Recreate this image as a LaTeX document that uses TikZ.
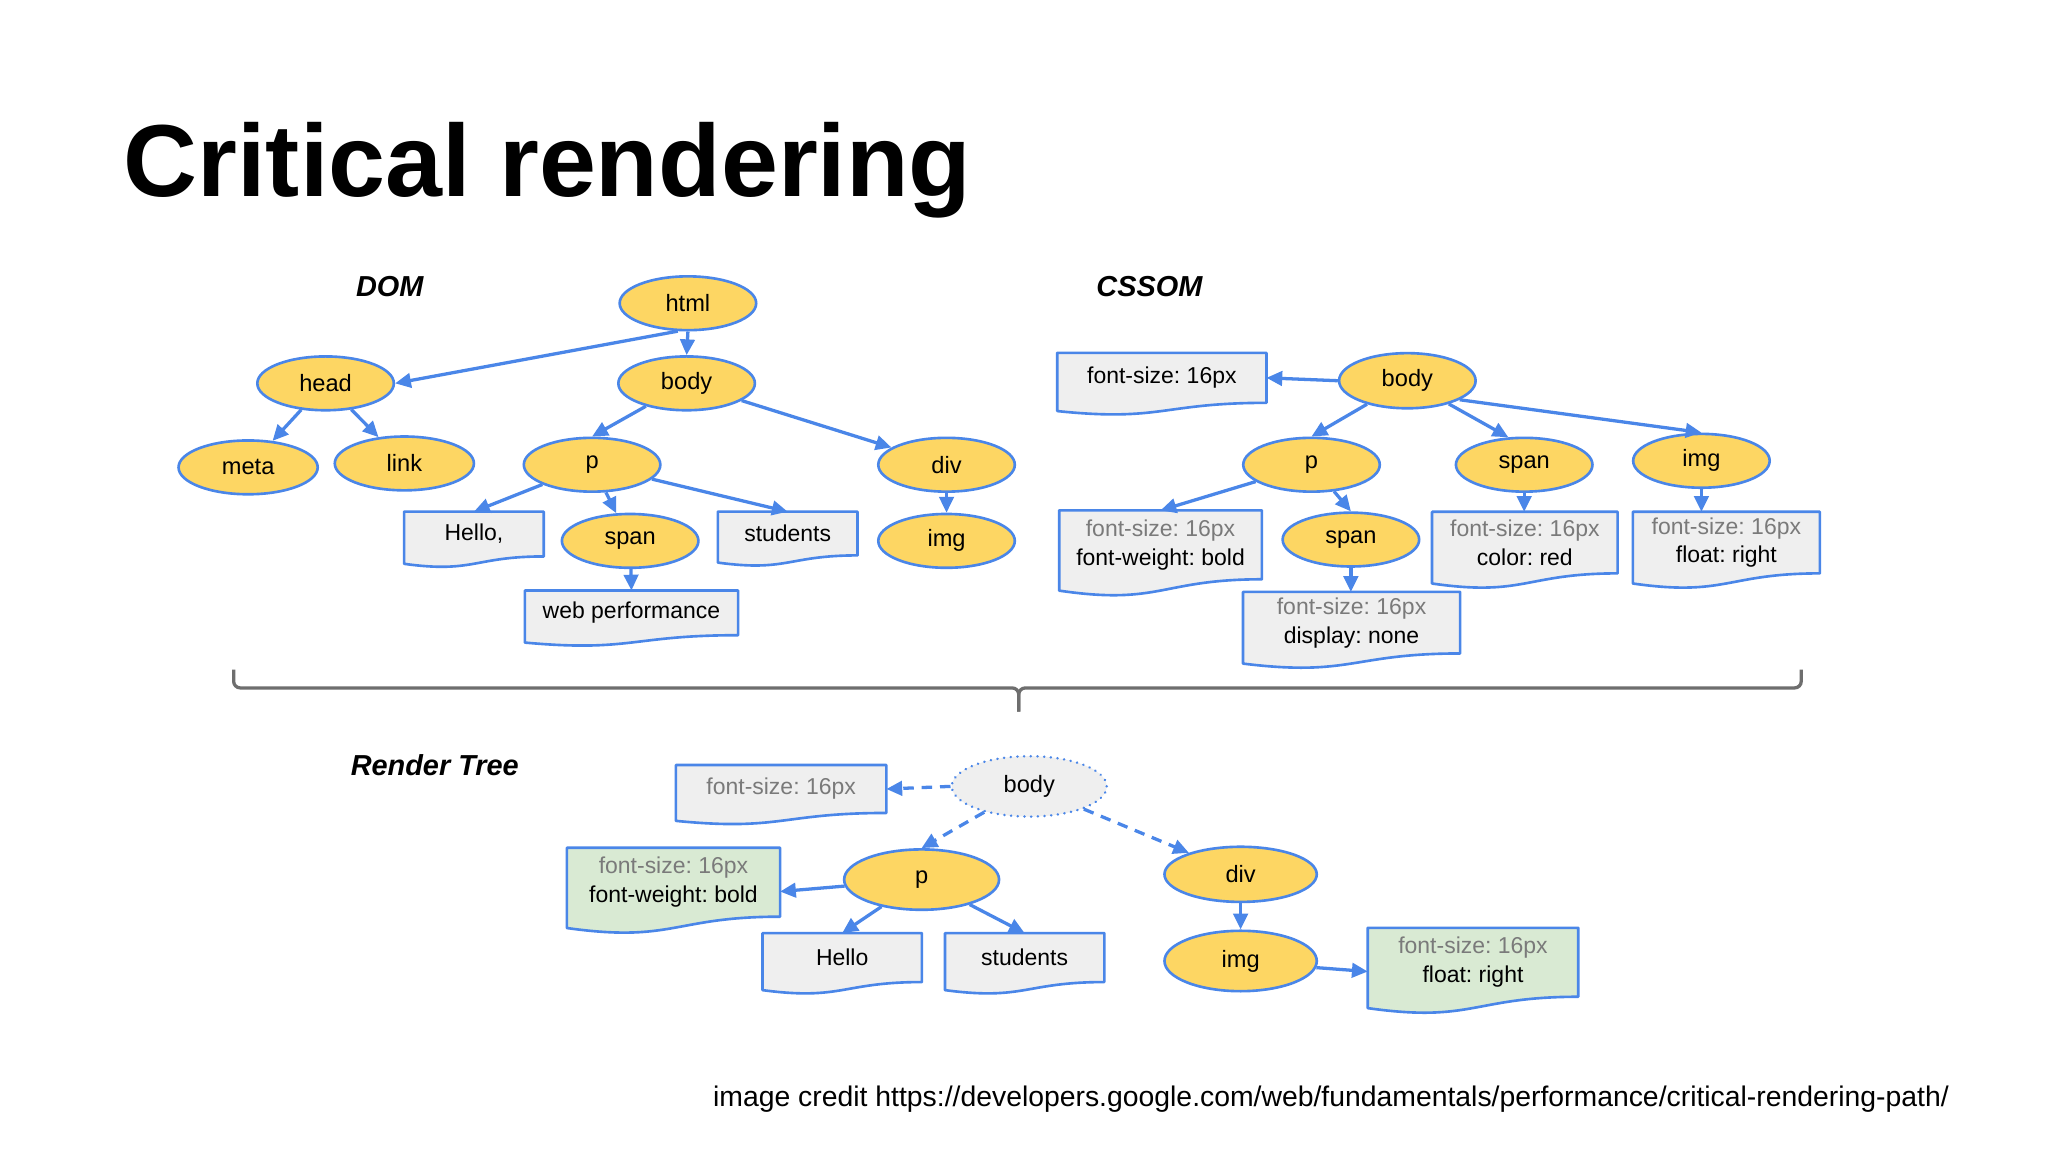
\documentclass[tikz,border=0pt]{standalone}
\usepackage{fontspec}
\setmainfont{Liberation Sans}
\usetikzlibrary{arrows.meta,calc,backgrounds,shapes.geometric}
\definecolor{gblue}{HTML}{4A86E8}
\definecolor{gyellow}{HTML}{FDD663}
\definecolor{boxgray}{HTML}{EFEFEF}
\definecolor{boxgreen}{HTML}{D9EAD3}
\definecolor{softtext}{HTML}{7A7A7A}
\definecolor{bracegray}{HTML}{6E6E6E}
\frenchspacing
\tikzset{
  elnode/.style={ellipse, draw=gblue, line width=2pt, fill=gyellow, inner sep=0pt,
    minimum width=104pt, minimum height=41pt, font=\fontsize{18}{20}\selectfont, text=black},
  docnode/.style={rectangle, inner sep=0pt, align=center, font=\fontsize{17.5}{22}\selectfont, text=black},
  docborder/.style={draw=gblue, line width=2pt, line join=round},
  arr/.style={draw=gblue, line width=2.5pt, -{Triangle[length=12pt,width=11pt]}},
  dasharr/.style={arr, dash pattern=on 8pt off 6pt},
  sectlabel/.style={anchor=west, font=\fontsize{22}{24}\selectfont\bfseries\itshape}
}
\newcommand{\lt}[1]{\textcolor{softtext}{#1}}
\begin{document}
\begin{tikzpicture}[x=1pt,y=-1pt]
\useasboundingbox (0,0) rectangle (1560,877.5);

% title and labels
\node[anchor=base west, font=\fontsize{78}{90}\selectfont\bfseries, inner sep=0pt] (title) at (94,150) {Critical rendering};
\node[sectlabel, inner sep=0pt] (domlabel) at (271,218) {DOM};
\node[sectlabel, inner sep=0pt] (cssomlabel) at (835,218) {CSSOM};
\node[sectlabel, inner sep=0pt] (rtlabel) at (267,583) {Render Tree};
\node[anchor=base west, inner sep=0pt, font=\fontsize{21.6}{24}\selectfont] (credit) at (543,843) {image credit https://developers.google.com/web/fundamentals/performance/critical-rendering-path/};

% ---------------- DOM ----------------
\node[elnode] (html) at (524,231) {html};
\node[elnode] (head) at (248,292) {head};
\node[elnode] (dbody) at (523,292) {body};
\node[elnode, minimum width=106pt] (meta) at (189,356) {meta};
\node[elnode, minimum width=106pt] (link) at (308,353) {link};
\node[elnode] (dp) at (451,354) {p};
\node[elnode] (ddiv) at (721,354) {div};
\node[elnode] (dspan) at (480,412) {span};
\node[elnode] (dimg) at (721,412) {img};
\node[docnode, minimum width=106pt, minimum height=33.7pt] (hello) at (361,406.8) {Hello,};
\node[docnode, minimum width=106pt, minimum height=32.9pt] (dstudents) at (600,406.4) {students};
\node[docnode, minimum width=162pt, minimum height=33.7pt] (webperf) at (481,466.8) {web performance};

\draw[arr] (html.250) -- (head.east);
\draw[arr] (html.south) -- (dbody.north);
\draw[arr] (head) -- (meta);
\draw[arr] (head) -- (link);
\draw[arr] (dbody) -- (dp.north);
\draw[arr] (dbody) -- (ddiv);
\draw[arr] (dp) -- (hello.north);
\draw[arr] (dp) -- (dspan);
\draw[arr] (dp) -- (dstudents.north);
\draw[arr] (ddiv) -- (dimg);
\draw[arr] (dspan) -- (webperf.north);

% ---------------- CSSOM ----------------
\node[elnode, minimum height=42pt] (cbody) at (1072,290) {body};
\node[elnode] (cp) at (999,354) {p};
\node[elnode] (cspan) at (1161,354) {span};
\node[elnode] (cimg) at (1296,351) {img};
\node[elnode] (cspanb) at (1029,411) {span};
\node[docnode, minimum width=159pt, minimum height=37.7pt] (cfs) at (885,287.8) {font-size: 16px};
\node[docnode, minimum width=154pt, minimum height=52.1pt] (cboxp) at (884,415) {\lt{font-size: 16px}\\font-weight: bold};
\node[docnode, minimum width=141pt, minimum height=46.5pt] (cboxspan) at (1161.5,413.3) {\lt{font-size: 16px}\\color: red};
\node[docnode, minimum width=142pt, minimum height=46.5pt] (cboximg) at (1315,413.3) {\lt{font-size: 16px}\\float: right};
\node[docnode, minimum width=165pt, minimum height=46.5pt] (cboxspanb) at (1029.5,474.3) {\lt{font-size: 16px}\\display: none};

\draw[arr] (cbody.west) -- (cfs.east);
\draw[arr] (cbody) -- (cp.north);
\draw[arr] (cbody) -- (cspan.120);
\draw[arr] (cbody.-20) -- (cimg.north);
\draw[arr] (cp) -- (cboxp.north);
\draw[arr] (cp) -- (cspanb.north);
\draw[arr] (cspan.south) -- (cspan.south |- cboxspan.north);
\draw[arr] (cimg.south) -- (cimg.south |- cboximg.north);
\draw[arr] (cspanb.south) -- (cspanb.south |- cboxspanb.north);

% ---------------- Render tree ----------------
\node[ellipse, draw=gblue, line width=2pt, fill=boxgray, inner sep=0pt, minimum width=118pt, minimum height=46pt,
      dash pattern=on 0.1pt off 5pt, line cap=round, font=\fontsize{18}{20}\selectfont] (rbody) at (784,599) {body};
\node[elnode, minimum width=118pt, minimum height=46pt] (rp) at (702,670) {p};
\node[elnode, minimum width=116pt, minimum height=42pt] (rdiv) at (945,666) {div};
\node[elnode, minimum width=116pt, minimum height=46pt] (rimg) at (945,732) {img};
\node[docnode, minimum width=160pt, minimum height=36.1pt] (rfs) at (595,601) {\lt{font-size: 16px}};
\node[docnode, minimum width=162pt, minimum height=52.1pt] (rgreenp) at (513,672) {\lt{font-size: 16px}\\font-weight: bold};
\node[docnode, minimum width=121pt, minimum height=36.9pt] (rhello) at (641.5,729.4) {Hello};
\node[docnode, minimum width=121pt, minimum height=36.9pt] (rstudents) at (780.5,729.4) {students};
\node[docnode, minimum width=160pt, minimum height=52.1pt] (rgreenimg) at (1122,733) {\lt{font-size: 16px}\\float: right};

\draw[dasharr] (rbody.west) -- (rfs.east);
\draw[dasharr] (rbody) -- (rp.north);
\draw[dasharr] (rbody) -- (rdiv);
\draw[arr] (rp) -- (rgreenp.-5);
\draw[arr] (rp) -- (rhello.north);
\draw[arr] (rp) -- (rstudents.north);
\draw[arr] (rdiv.south) -- (rimg.north);
\draw[arr] (rimg.-5) -- (rgreenimg.185);

% ---------------- background and document shapes (behind text) ----------------
\begin{scope}[on background layer]
\fill[white] (0,0) rectangle (1560,877.5);
\foreach \n in {hello,dstudents,webperf,cfs,cboxp,cboxspan,cboximg,cboxspanb,rfs,rhello,rstudents}{
  \draw[docborder, fill=boxgray] (\n.north west) -- (\n.north east) -- (\n.south east)
    .. controls (\n.south) and ($(\n.north)!1.381!(\n.south)$) .. ($(\n.north west)!1.1646!(\n.south west)$) -- cycle;
}
\foreach \n in {rgreenp,rgreenimg}{
  \draw[docborder, fill=boxgreen] (\n.north west) -- (\n.north east) -- (\n.south east)
    .. controls (\n.south) and ($(\n.north)!1.381!(\n.south)$) .. ($(\n.north west)!1.1646!(\n.south west)$) -- cycle;
}
\end{scope}

% brace
\draw[bracegray, line width=2.5pt, rounded corners=5pt] (178,510) -- (178,524) -- (776,524) -- (776,542);
\draw[bracegray, line width=2.5pt, rounded corners=5pt] (1372,510) -- (1372,524) -- (776,524) -- (776,542);
\end{tikzpicture}
\end{document}
